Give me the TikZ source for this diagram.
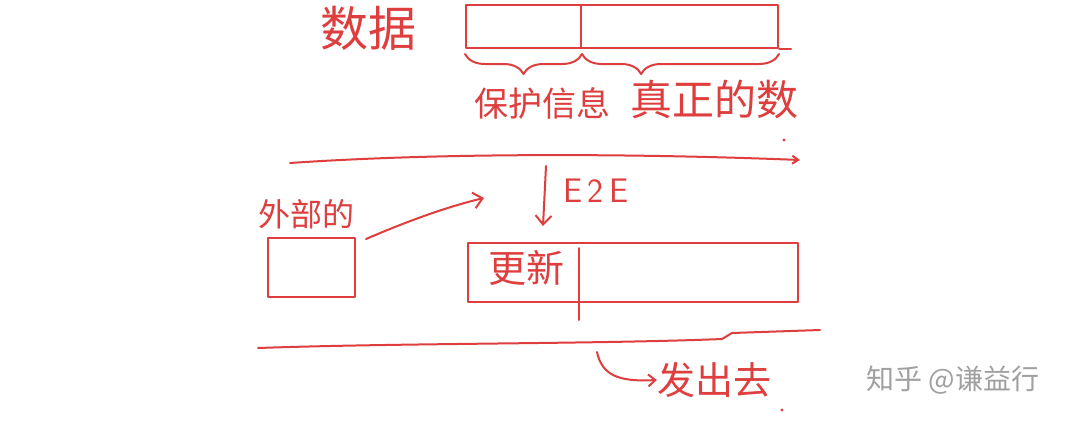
\documentclass[tikz,border=0pt]{standalone}
\usepackage{fontspec}
\newfontfamily\cjk{Noto Sans CJK SC}
\usetikzlibrary{arrows.meta,decorations.pathreplacing}
\definecolor{pen}{RGB}{222,62,62}
\definecolor{wm}{RGB}{160,160,160}
\tikzset{
  ink/.style={draw=pen, line width=2pt, line cap=round, line join=round},
  box/.style={ink, rectangle, inner sep=0pt},
  lbl/.style={text=pen, inner sep=0pt, font=\cjk},
  barb/.style={-{Straight Barb[length=9pt,width=16pt,line width=2pt]}},
}
\begin{document}
\begin{tikzpicture}[x=1pt,y=-1pt]
\useasboundingbox (0,0) rectangle (1080,429);
\fill[white] (0,0) rectangle (1080,429);
% top data box
\node[lbl, font=\cjk\fontsize{48}{48}\selectfont] (data) at (368,28) {数据};
\node[box, minimum width=115pt, minimum height=43pt] (prot) at (523.5,26.5) {};
\node[box, minimum width=197pt, minimum height=43pt] (real) at (679.5,26.5) {};
\draw[ink] (real.south east) -- ++(12,0);
\draw[ink, decorate, decoration={brace, mirror, amplitude=20pt}] (prot.south west) ++(0,5) coordinate (b1) -- (prot.south east |- b1);
\draw[ink, decorate, decoration={brace, mirror, amplitude=20pt, aspect=0.3}] (real.south west) ++(2,5) coordinate (b2) -- (real.south east |- b2);
\node[lbl, font=\cjk\fontsize{34}{34}\selectfont] (protl) at (542,103) {保护信息};
\node[lbl, font=\cjk\fontsize{42}{42}\selectfont] (reall) at (714,100) {真正的数};
\fill[pen] (784,140) circle (1.6pt);
% long line
\coordinate (l1s) at (290,163);
\coordinate (l1e) at (800,160);
\draw[ink, -{Straight Barb[length=6pt,width=8pt,line width=2pt]}] (l1s) .. controls (450,152) and (650,154) .. (l1e);
% E2E
\coordinate (e2es) at (546,166);
\node[box, minimum width=330pt, minimum height=59pt] (upd) at (633,272.5) {};
\draw[ink, barb] (e2es) -- (543,226);
\node[text=pen, inner sep=0pt, font=\fontsize{34}{34}\selectfont\sffamily] (e2e) at (596,191) {E\,2\,E};
% external
\node[lbl, font=\cjk\fontsize{32}{32}\selectfont] (ext) at (306,214) {外部的};
\node[box, minimum width=87pt, minimum height=59pt] (extb) at (311.5,267.5) {};
\draw[ink, barb] (extb.north east) ++(10,2) .. controls (410,220) and (450,206) .. (484,198);
\draw[ink] (579,248) -- (579,320);
\node[lbl, font=\cjk\fontsize{38}{38}\selectfont] (updl) at (526,268) {更新};
% bottom line
\coordinate (l2s) at (258,348);
\coordinate (l2e) at (820,330);
\draw[ink] (l2s) .. controls (400,343) and (600,344) .. (722,339) -- (732,333) -- (l2e);
\node[lbl, font=\cjk\fontsize{38}{38}\selectfont] (send) at (714,380) {发出去};
\draw[ink, -{Straight Barb[length=7pt,width=12pt,line width=2pt]}] (597,352) .. controls (602,375) and (618,382) .. (send.west);
\fill[pen] (782,410) circle (1.6pt);
% watermark
\node[text=wm, inner sep=0pt, font=\cjk\fontsize{28}{28}\selectfont] (wmk) at (953,380) {知乎 @谦益行};
\end{tikzpicture}
\end{document}
